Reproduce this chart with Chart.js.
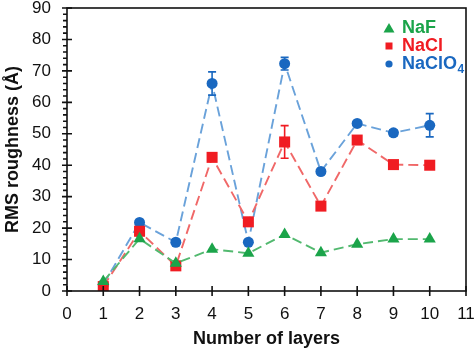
<!DOCTYPE html>
<html><head><meta charset="utf-8">
<script src="https://cdn.jsdelivr.net/npm/chart.js@4/dist/chart.umd.min.js"></script>
<style>html,body{margin:0;padding:0;background:#fff}#wrap{width:474px;height:351px}</style>
</head><body><div id="wrap"><canvas id="c" width="474" height="351"></canvas></div>
<script>
const layers = [1,2,3,4,5,6,7,8,9,10];
const seriesNames = ['NaF','NaCl','NaClO4'];
const naF    = [3.0,16.6,8.8,13.3,12.0,18.0,12.2,14.9,16.5,16.5];
const naCl   = [1.4,19.0,8.0,42.5,22.0,47.4,27.0,48.0,40.2,40.0];
const naClO4 = [2.0,21.8,15.5,66.0,15.5,72.3,38.0,53.3,50.3,52.7];
const errNaF    = [0,0,0,0,0,0,0,0,0,0];
const errNaCl   = [0,0,0,0,0,5.2,0,0,0,0];
const errNaClO4 = [0,0,0,3.7,0,2.0,0,0,1.0,3.7];
const xTicks = [0,1,2,3,4,5,6,7,8,9,10,11];
const yTicks = [0,10,20,30,40,50,60,70,80,90];

const FONT = "'Liberation Sans', Arial, sans-serif";
const cols = {
  NaF:   {m:'#1ba44a', l:'#52b96f'},
  NaCl:  {m:'#f01c22', l:'#f06868'},
  NaClO4:{m:'#1a68c0', l:'#6aa2da'}
};
function pts(v){ return layers.map((x,i)=>({x:x,y:v[i]})); }

const extras = {
  id:'extras',
  afterDatasetsDraw(chart){
    const ctx = chart.ctx, xs = chart.scales.x, ys = chart.scales.y;
    chart.data.datasets.forEach(ds=>{
      if(!ds.err) return;
      ctx.save(); ctx.strokeStyle = ds.pointBackgroundColor; ctx.lineWidth = 1.6;
      ds.data.forEach((p,i)=>{
        const e = ds.err[i]; if(!e) return;
        const px = xs.getPixelForValue(p.x);
        const y1 = ys.getPixelForValue(p.y+e), y2 = ys.getPixelForValue(p.y-e);
        ctx.beginPath();
        ctx.moveTo(px,y1); ctx.lineTo(px,y2);
        ctx.moveTo(px-4,y1); ctx.lineTo(px+4,y1);
        ctx.moveTo(px-4,y2); ctx.lineTo(px+4,y2);
        ctx.stroke();
      });
      ctx.restore();
    });
  },
  afterDraw(chart){
    const ctx = chart.ctx, a = chart.chartArea, xs = chart.scales.x, ys = chart.scales.y;
    ctx.save();
    ctx.strokeStyle = '#111'; ctx.lineWidth = 1.6;
    ctx.strokeRect(a.left, a.top, a.right-a.left, a.bottom-a.top);
    ctx.beginPath();
    xTicks.forEach(v=>{ const px = xs.getPixelForValue(v); ctx.moveTo(px, a.bottom-5); ctx.lineTo(px, a.bottom+5); });
    for(let v=0; v<=90; v+=2){
      const py = ys.getPixelForValue(v);
      if(v%10===0){ ctx.moveTo(a.left-5, py); ctx.lineTo(a.left+5, py); }
      else { ctx.moveTo(a.left-4, py); ctx.lineTo(a.left, py); }
    }
    ctx.stroke();
    // legend
    const lx = 389, items = [[28,'triangle'],[46,'rect'],[64,'circle']];
    ctx.textBaseline = 'middle'; ctx.textAlign='left';
    chart.data.datasets.forEach((ds,i)=>{
      const [ly, shape] = items[i];
      const c = ds.pointBackgroundColor;
      ctx.fillStyle = c;
      ctx.beginPath();
      if(shape==='triangle'){ ctx.moveTo(lx, ly-5); ctx.lineTo(lx+5.5, ly+4.5); ctx.lineTo(lx-5.5, ly+4.5); ctx.closePath(); ctx.fill(); }
      else if(shape==='rect'){ ctx.fillRect(lx-3.5, ly-3.5, 7, 7); }
      else { ctx.arc(lx, ly, 3.6, 0, Math.PI*2); ctx.fill(); }
      const name = seriesNames[i];
      if(name==='NaClO4'){
        ctx.font = 'bold 18px ' + FONT; ctx.fillText('NaClO', 402, ly);
        const w = ctx.measureText('NaClO').width;
        ctx.font = 'bold 12px ' + FONT; ctx.fillText('4', 402+w+0.5, ly+6);
      } else {
        ctx.font = 'bold 18px ' + FONT; ctx.fillText(name, 402, ly);
      }
    });
    ctx.restore();
  }
};

function mk(label, data, err, style, r){
  const c = cols[label];
  return {label, data: pts(data), err, borderColor:c.l, backgroundColor:c.m,
    pointBackgroundColor:c.m, pointBorderColor:c.m, pointStyle:style, pointRadius:r, pointBorderWidth:0,
    borderWidth:1.9, borderDash:[10,5], tension:0, showLine:true};
}

new Chart(document.getElementById('c'), {
  type:'scatter',
  data:{ datasets:[
    mk('NaF', naF, errNaF, 'triangle', 7),
    mk('NaCl', naCl, errNaCl, 'rect', 7.8),
    mk('NaClO4', naClO4, errNaClO4, 'circle', 5.5)
  ]},
  options:{
    responsive:false, animation:false, devicePixelRatio:1,
    layout:{padding:{top:8, right:8, left:0, bottom:0}},
    plugins:{legend:{display:false}, tooltip:{enabled:false}},
    scales:{
      x:{type:'linear', min:0, max:11,
        afterFit(s){ s.height = 60; s.paddingLeft = 0; s.paddingRight = 0; },
        afterBuildTicks(s){ s.ticks = xTicks.map(v=>({value:v})); },
        grid:{display:false, drawTicks:false}, border:{display:false},
        ticks:{padding:13, color:'#111', font:{family:FONT, size:17}, maxRotation:0, autoSkip:false},
        title:{display:true, text:'Number of layers', color:'#111', font:{family:FONT, size:18, weight:'bold'}, padding:{top:0,bottom:1}}
      },
      y:{type:'linear', min:0, max:90,
        afterFit(s){ s.width = 67; s.paddingTop = 0; s.paddingBottom = 0; },
        afterBuildTicks(s){ s.ticks = yTicks.map(v=>({value:v})); },
        grid:{display:false, drawTicks:false}, border:{display:false},
        ticks:{padding:16, color:'#111', font:{family:FONT, size:17}, autoSkip:false},
        title:{display:true, text:'RMS roughness (Å)', color:'#111', font:{family:FONT, size:18, weight:'bold'}, padding:{top:2,bottom:0}}
      }
    }
  },
  plugins:[extras]
});
</script></body></html>
